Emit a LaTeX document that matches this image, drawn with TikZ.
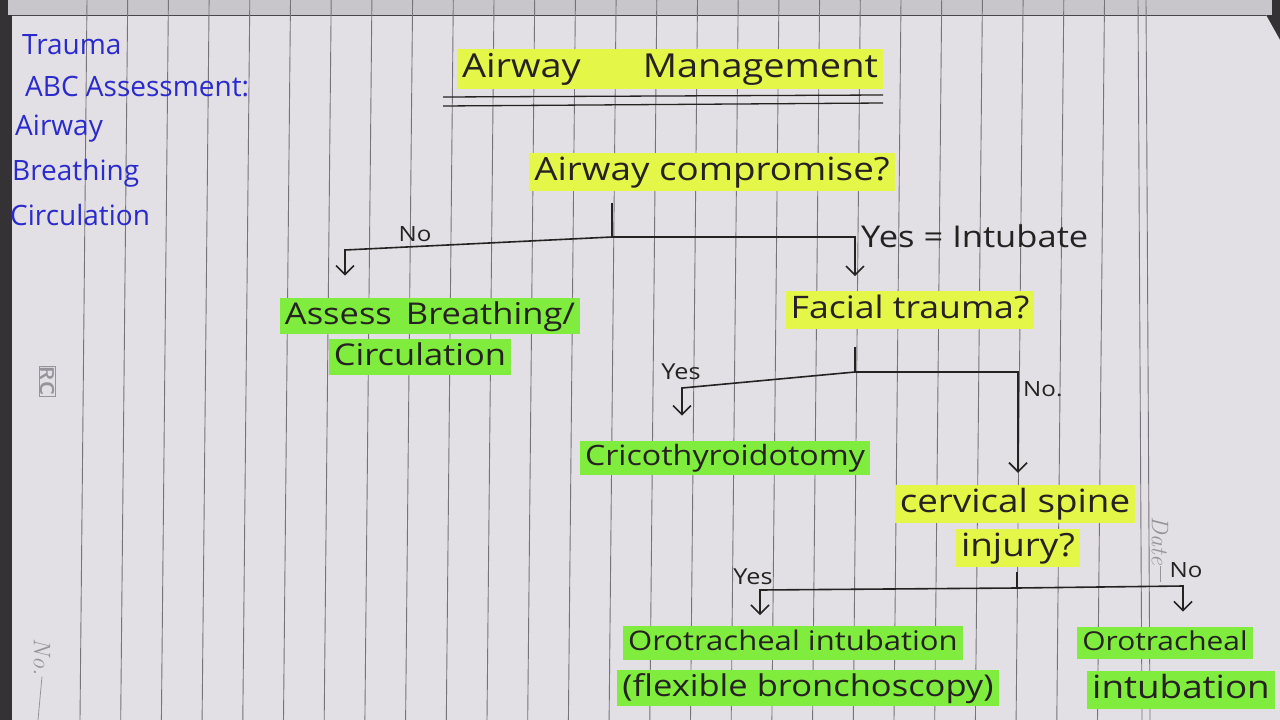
\documentclass[tikz,border=0pt]{standalone}
\usepackage{fontspec}
\newfontfamily\handfont[FakeStretch=1.15]{Open Sans}
\newfontfamily\bluefont{Open Sans}
\usetikzlibrary{arrows.meta}

\definecolor{desk}{RGB}{52,50,52}
\definecolor{paper}{RGB}{226,224,228}
\definecolor{underpage}{RGB}{200,198,202}
\definecolor{rule}{RGB}{118,116,122}
\definecolor{ink}{RGB}{38,34,34}
\definecolor{blueink}{RGB}{42,42,205}
\definecolor{printed}{RGB}{150,148,154}
\definecolor{hlyellow}{RGB}{228,246,72}
\definecolor{hlgreen}{RGB}{128,236,62}

\begin{document}
\begin{tikzpicture}[x=1pt, y=-1pt,
    hand/.style={font=\handfont\fontsize{#1}{#1}\selectfont, text=ink, inner xsep=5pt, inner ysep=4pt,
        text height={0.74*#1 pt}, text depth={0.2*#1 pt}},
    hand/.default=30,
    yellowhl/.style={hand=#1, fill=hlyellow},
    yellowhl/.default=30,
    greenhl/.style={hand=#1, fill=hlgreen},
    greenhl/.default=30,
    lbl/.style={font=\handfont\fontsize{#1}{#1}\selectfont, text=ink, inner sep=1pt},
    lbl/.default=21,
    bluenote/.style={font=\bluefont\fontsize{28}{28}\selectfont, text=blueink, inner sep=0pt, anchor=west},
    printmark/.style={font=\itshape\fontsize{24}{24}\selectfont, text=printed, inner sep=1pt},
    link/.style={draw=ink, line width=1.6pt},
    arr/.style={link, -{Straight Barb[length=9pt, width=18pt]}}]

    % Page
    \useasboundingbox (0,0) rectangle (1280,720);
    \fill[desk] (0,0) rectangle (1280,720);
    \fill[underpage] (8,0) rectangle (1272,15);
    \fill[paper] (12,15) -- (1266,15) -- (1280,40) -- (1280,720) -- (12,720) -- cycle;
    \draw[rule!60!black, line width=1pt] (12,15) -- (1266,15);

    % Ruling
    \foreach \k in {0,...,25}
        \draw[rule, line width=0.9pt] ({87+40.7*\k},0) -- ({80+40.7*\k},720);
    \draw[rule, line width=0.9pt] (1138,0) -- (1142,720);
    \draw[rule, line width=0.9pt] (1146,0) -- (1150,720);

    % Printed marks
    \node[printmark, draw=printed, rotate=-90, font=\sffamily\bfseries\fontsize{20}{20}\selectfont] (rc) at (47,381) {RC};
    \node[printmark, rotate=-90] (numb) at (42,657) {No.};
    \draw[printed, line width=0.8pt] (numb.east) -- (38,720);
    \node[printmark, rotate=-90] (date) at (1160,541) {Date};
    \draw[printed, line width=0.8pt] (date.east) -- (1160,582);

    % Side notes
    \node[bluenote] (trauma) at (22,45) {Trauma};
    \node[bluenote] (abc) at (25,87) {ABC Assessment:};
    \node[bluenote] (airway) at (15,129) {Airway};
    \node[bluenote] (breath) at (12,173) {Breathing};
    \node[bluenote] (circ) at (10,215) {Circulation};

    % Title
    \node[yellowhl=33] (title) at (670,69) {Airway\hspace{62pt}Management};
    \draw[ink, line width=1.3pt] (443,97) -- (883,95);
    \draw[ink, line width=1.3pt] (443,106) -- (883,103);

    % Questions and actions
    \node[yellowhl=32] (comp) at (712,172) {Airway compromise?};
    \node[greenhl] (assess1) at (430,316) {Assess\hspace{14pt}Breathing/};
    \node[greenhl] (assess2) at (420,357) {Circulation};
    \node[yellowhl=31] (facial) at (910,310) {Facial trauma?};
    \node[greenhl=28] (crico) at (725,458) {Cricothyroidotomy};
    \node[yellowhl=32] (cerv1) at (1015,504) {cervical spine};
    \node[yellowhl=32] (cerv2) at (1018,548) {injury?};
    \node[greenhl=27] (oro1) at (793,643) {Orotracheal intubation};
    \node[greenhl] (oro2) at (808,688) {(flexible bronchoscopy)};
    \node[greenhl=26] (oro3) at (1165,643) {Orotracheal};
    \node[greenhl=32] (oro4) at (1181,690) {intubation};

    % Airway compromise split
    \coordinate (jA) at (612,237);
    \coordinate (bNo) at (345,250);
    \coordinate (bYes) at (855,237);
    \draw[link, shorten <=12pt] (comp.south -| jA) -- (jA);
    \draw[arr, shorten >=22pt] (jA) -- (bNo) -- (bNo |- assess1.north);
    \draw[arr, shorten >=15pt] (jA) -- (bYes) -- (bYes |- facial.north);
    \node[lbl] (no1) at (415,234) {No};
    \node[lbl=30, anchor=west] (yes1) at (860,236) {Yes = Intubate};

    % Facial trauma split
    \coordinate (jB) at (855,372);
    \coordinate (bB1) at (682,388);
    \coordinate (bB2) at (1018,372);
    \draw[link, shorten <=18pt] (facial.south -| jB) -- (jB);
    \draw[arr, shorten >=25pt] (jB) -- (bB1) -- (bB1 |- crico.north);
    \draw[arr, shorten >=12pt] (jB) -- (bB2) -- (bB2 |- cerv1.north);
    \node[lbl=22] (yes2) at (681,372) {Yes};
    \node[lbl, anchor=west] (no2) at (1022,389) {No.};

    % Cervical spine split
    \coordinate (jC) at (1017,588);
    \coordinate (bC1) at (760,590);
    \coordinate (bC2) at (1183,586);
    \draw[link, shorten <=5pt] (cerv2.south -| jC) -- (jC);
    \draw[arr, shorten >=11pt] (jC) -- (bC1) -- (bC1 |- oro1.north);
    \draw[arr, shorten >=15pt] (jC) -- (bC2) -- (bC2 |- oro3.north);
    \node[lbl=22] (yes3) at (753,577) {Yes};
    \node[lbl] (no3) at (1186,570) {No};
\end{tikzpicture}
\end{document}
